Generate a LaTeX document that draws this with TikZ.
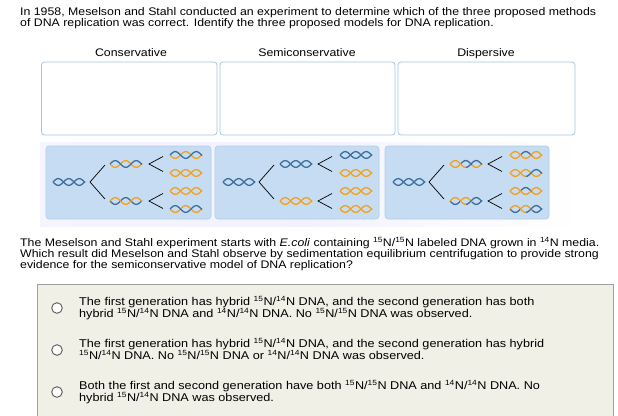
\documentclass[tikz,border=0pt]{standalone}
\usepackage{fontspec}
\setmainfont{Liberation Sans}[FakeStretch=1.12]
\definecolor{dblue}{HTML}{3D6E9E}
\definecolor{dorng}{HTML}{F5A01A}
\definecolor{pfill}{HTML}{C6DCF2}
\definecolor{pline}{HTML}{B0CCE8}
\definecolor{bline}{HTML}{A8C4E4}
\definecolor{optf}{HTML}{F0F0E6}
\definecolor{optl}{HTML}{A0A0A0}
\newcommand{\sq}[1]{\textsuperscript{\fontsize{7.5}{7.5}\selectfont #1}}
% strand: x y phase color from to
\newcommand{\strand}[6]{\draw[#4,line width=1.3pt] plot[domain=#5:#6,samples=25,smooth] ({#1+\x},{#2+3.4*sin(\x*360/21+#3)});}
\newcommand{\helix}[4]{\strand{#1}{#2}{0}{#3}{0}{32}\strand{#1}{#2}{180}{#4}{0}{32}}
\newcommand{\mixhelix}[6]{%
\strand{#1}{#2}{0}{#3}{0}{11}\strand{#1}{#2}{0}{#4}{11}{22}\strand{#1}{#2}{0}{#3}{22}{32}%
\strand{#1}{#2}{180}{#5}{0}{16}\strand{#1}{#2}{180}{#6}{16}{32}}
\newcommand{\brk}[4]{\draw[black,line width=0.7pt] (#1+#3,#2-#4) -- (#1,#2) -- (#1+#3,#2+#4);}
\begin{document}
\begin{tikzpicture}[x=1pt,y=-1pt,
  txt/.style={anchor=base west,inner sep=0,font=\fontsize{11}{12}\selectfont},
  otxt/.style={txt,font=\fontsize{11.3}{12}\selectfont},
  panel/.style={fill=pfill,draw=pline,rounded corners=3pt,line width=0.6pt},
  ansbox/.style={draw=bline,rounded corners=3pt,line width=0.8pt,fill=white}]
\useasboundingbox (0,0) rectangle (618,415);
\fill[white] (0,0) rectangle (618,415);
\node[txt] (t1) at (20,16) {In 1958, Meselson and Stahl conducted an experiment to determine which of the three proposed methods};
\node[txt] (t2) at (20,27) {of DNA replication was correct. Identify the three proposed models for DNA replication.};
\node[txt,anchor=base] (l1) at (131,56) {Conservative};
\node[txt,anchor=base] (l2) at (307,56) {Semiconservative};
\node[txt,anchor=base] (l3) at (486,56) {Dispersive};
\draw[ansbox] (41.5,62) rectangle (217,135);
\draw[ansbox] (220,62) rectangle (395,135);
\draw[ansbox] (398,62) rectangle (575,135);
\shade[left color=blue!4,right color=white,middle color=blue!5] (40,142) rectangle (580,226);
\draw[panel] (46,146) rectangle (211,219);
\draw[panel] (215,146) rectangle (379,219);
\draw[panel] (385,146) rectangle (549,219);
\foreach \px in {46,215,385}{
  \brk{\px+44}{182}{15}{17}
  \brk{\px+103}{164}{14}{7.5}
  \brk{\px+103}{201}{14}{7.5}
}
% panel 1
\helix{53}{182}{dblue}{dblue}
\helix{110}{164}{dorng}{dblue}
\helix{110}{201}{dblue}{dorng}
\helix{170}{155}{dorng}{dblue}
\helix{170}{173}{dorng}{dorng}
\helix{170}{191}{dorng}{dorng}
\helix{170}{209}{dorng}{dblue}
% panel 2
\helix{223}{182}{dblue}{dblue}
\helix{280}{164}{dblue}{dblue}
\helix{280}{201}{dorng}{dorng}
\helix{340}{155}{dblue}{dblue}
\helix{340}{173}{dorng}{dorng}
\helix{340}{191}{dorng}{dorng}
\helix{340}{209}{dorng}{dorng}
% panel 3
\helix{393}{182}{dblue}{dblue}
\mixhelix{450}{164}{dorng}{dblue}{dorng}{dblue}
\mixhelix{450}{201}{dblue}{dorng}{dorng}{dblue}
\mixhelix{510}{155}{dorng}{dblue}{dorng}{dorng}
\mixhelix{510}{173}{dorng}{dorng}{dorng}{dblue}
\mixhelix{510}{191}{dorng}{dblue}{dorng}{dorng}
\mixhelix{510}{209}{dblue}{dorng}{dorng}{dblue}
% question
\node[txt] (q1) at (20,246) {The Meselson and Stahl experiment starts with \textit{E.coli} containing \sq{15}N/\sq{15}N labeled DNA grown in \sq{14}N media.};
\node[txt] (q2) at (20,257) {Which result did Meselson and Stahl observe by sedimentation equilibrium centrifugation to provide strong};
\node[txt] (q3) at (20,268) {evidence for the semiconservative model of DNA replication?};
\draw[optl,fill=optf,line width=0.8pt] (37,284) rectangle (613,418);
\foreach \cy in {308,350,392}{
  \draw[gray!70!black,fill=white,line width=0.9pt] (57,\cy) circle (5.3);
}
\node[otxt] (a1) at (79,305) {The first generation has hybrid \sq{15}N/\sq{14}N DNA, and the second generation has both};
\node[otxt] (a1b) at (79,317) {hybrid \sq{15}N/\sq{14}N DNA and \sq{14}N/\sq{14}N DNA. No \sq{15}N/\sq{15}N DNA was observed.};
\node[otxt] (a2) at (79,347) {The first generation has hybrid \sq{15}N/\sq{14}N DNA, and the second generation has hybrid};
\node[otxt] (a2b) at (79,359) {\sq{15}N/\sq{14}N DNA. No \sq{15}N/\sq{15}N DNA or \sq{14}N/\sq{14}N DNA was observed.};
\node[otxt] (a3) at (79,389) {Both the first and second generation have both \sq{15}N/\sq{15}N DNA and \sq{14}N/\sq{14}N DNA. No};
\node[otxt] (a3b) at (79,401) {hybrid \sq{15}N/\sq{14}N DNA was observed.};
\end{tikzpicture}
\end{document}
